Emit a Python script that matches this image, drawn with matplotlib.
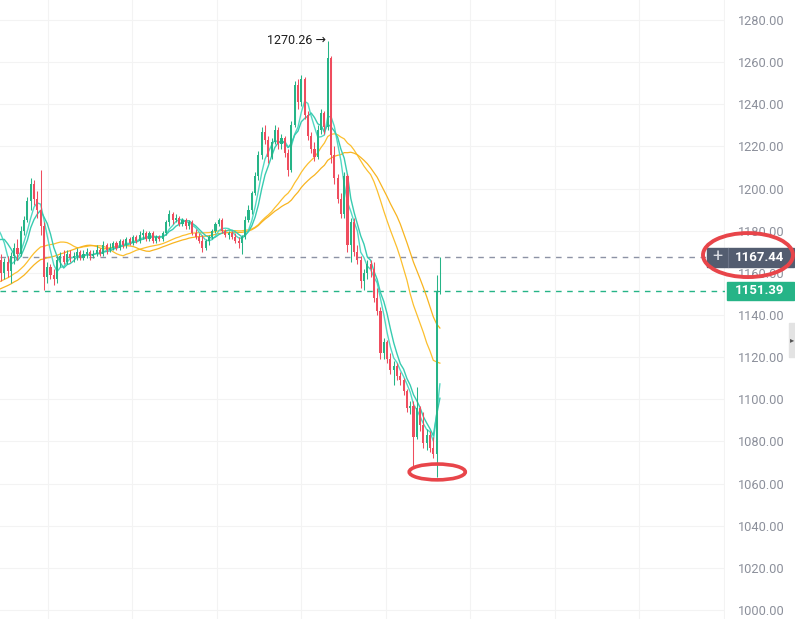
import matplotlib.pyplot as plt
from matplotlib.patches import Ellipse, Rectangle
from matplotlib import transforms
import numpy as np
import pandas as pd

plt.rcParams['font.family'] = ['Roboto', 'DejaVu Sans']

# closes before the visible window (only used to warm up the moving averages)
earlier_closes = [1138, 1140, 1137, 1141, 1139, 1142, 1140, 1143, 1141, 1144,
                  1142, 1145, 1143, 1146, 1144, 1147, 1145, 1148, 1146, 1149,
                  1147, 1150, 1148, 1151, 1149, 1152, 1150, 1153, 1158, 1165,
                  1175, 1185, 1192, 1188, 1166]

opens = [1166, 1160, 1165, 1161, 1168, 1172, 1169, 1180, 1185, 1194,
         1202, 1195, 1190, 1182, 1158, 1163, 1159, 1157, 1166, 1168,
         1165, 1169, 1167, 1168, 1170, 1167, 1169, 1170, 1168, 1169,
         1171, 1169, 1173, 1171, 1172, 1174, 1172, 1175, 1173, 1176,
         1174, 1177, 1175, 1178, 1179, 1176, 1179, 1175, 1177, 1176,
         1179, 1184, 1188, 1185, 1186, 1183, 1185, 1182, 1184, 1179,
         1177, 1175, 1172, 1175, 1177, 1180, 1183, 1185, 1180, 1178,
         1179, 1177, 1175, 1174, 1177, 1185, 1190, 1198, 1206, 1216,
         1227, 1223, 1215, 1222, 1228, 1221, 1224, 1217, 1209, 1230,
         1249, 1241, 1252, 1235, 1225, 1219, 1215, 1228, 1236, 1229,
         1262, 1216, 1205, 1195, 1188, 1206, 1173, 1184, 1170, 1166,
         1156, 1160, 1164, 1162, 1148, 1142, 1122, 1127, 1119, 1114,
         1116, 1111, 1109, 1104, 1096, 1097, 1082, 1096, 1088, 1079,
         1083, 1077, 1074, 1151]
highs = [1169, 1167, 1168, 1170, 1174, 1176, 1182, 1187, 1196, 1205,
         1204, 1199, 1209, 1184, 1165, 1164, 1162, 1168, 1170, 1171,
         1171, 1171, 1170, 1172, 1171, 1171, 1172, 1171, 1171, 1173,
         1172, 1175, 1174, 1174, 1175, 1175, 1176, 1176, 1177, 1177,
         1178, 1178, 1180, 1181, 1180, 1180, 1180, 1178, 1178, 1180,
         1185, 1190, 1189, 1188, 1187, 1186, 1186, 1185, 1185, 1181,
         1179, 1178, 1176, 1178, 1181, 1184, 1186, 1186, 1181, 1180,
         1180, 1179, 1177, 1178, 1187, 1192, 1199, 1208, 1218, 1229,
         1230, 1225, 1224, 1230, 1229, 1226, 1225, 1219, 1232, 1251,
         1252, 1254, 1253, 1237, 1227, 1222, 1230, 1238, 1237, 1270.26,
         1263, 1220, 1207, 1198, 1208, 1207, 1186, 1186, 1173, 1168,
         1162, 1166, 1166, 1165, 1153, 1144, 1129, 1128, 1122, 1118,
         1117, 1113, 1110, 1105, 1099, 1099, 1106, 1097, 1094, 1086,
         1085, 1082, 1159, 1167.44]
lows = [1156, 1157, 1158, 1155, 1164, 1166, 1168, 1178, 1184, 1190,
        1192, 1186, 1178, 1152, 1155, 1157, 1154, 1155, 1163, 1164,
        1164, 1165, 1165, 1166, 1166, 1166, 1167, 1166, 1167, 1168,
        1168, 1168, 1169, 1170, 1171, 1171, 1171, 1172, 1172, 1173,
        1173, 1174, 1174, 1176, 1175, 1175, 1174, 1174, 1175, 1175,
        1178, 1182, 1183, 1184, 1182, 1182, 1181, 1181, 1178, 1176,
        1174, 1170, 1171, 1173, 1176, 1179, 1182, 1179, 1177, 1176,
        1176, 1174, 1172, 1169, 1176, 1184, 1188, 1197, 1204, 1214,
        1221, 1212, 1214, 1221, 1219, 1219, 1215, 1206, 1208, 1229,
        1238, 1239, 1233, 1223, 1217, 1213, 1214, 1226, 1226, 1228,
        1212, 1202, 1193, 1186, 1186, 1170, 1165, 1168, 1164, 1153,
        1152, 1157, 1158, 1146, 1140, 1119, 1119, 1117, 1112, 1107,
        1109, 1107, 1102, 1094, 1093, 1068, 1081, 1085, 1077, 1076,
        1075, 1072, 1063, 1150]
closes = [1160, 1165, 1161, 1168, 1172, 1169, 1180, 1185, 1194, 1202,
          1195, 1190, 1182, 1158, 1163, 1159, 1157, 1166, 1168, 1165,
          1169, 1167, 1168, 1170, 1167, 1169, 1170, 1168, 1169, 1171,
          1169, 1173, 1171, 1172, 1174, 1172, 1175, 1173, 1176, 1174,
          1177, 1175, 1178, 1179, 1176, 1179, 1175, 1177, 1176, 1179,
          1184, 1188, 1185, 1186, 1183, 1185, 1182, 1184, 1179, 1177,
          1175, 1172, 1175, 1177, 1180, 1183, 1185, 1180, 1178, 1179,
          1177, 1175, 1174, 1177, 1185, 1190, 1198, 1206, 1216, 1227,
          1223, 1215, 1222, 1228, 1221, 1224, 1217, 1209, 1230, 1249,
          1241, 1252, 1235, 1225, 1219, 1215, 1228, 1236, 1229, 1262,
          1216, 1205, 1195, 1188, 1206, 1173, 1184, 1170, 1166, 1156,
          1160, 1164, 1162, 1148, 1142, 1122, 1127, 1119, 1114, 1116,
          1111, 1109, 1104, 1096, 1097, 1082, 1096, 1088, 1079, 1083,
          1077, 1074, 1151, 1151.39]

ma_fast = [5, 7]
ma_slow = [25, 33]
peak_label = "1270.26"
last_price = 1151.39
cross_price = 1167.44
price_ticks = list(range(1000, 1281, 20))

green = "#26b487"
red = "#ef4d5e"

fig = plt.figure(figsize=(7.95, 6.19), dpi=100)
ax = fig.add_axes([0, 0, 725 / 795, 1])

n = len(closes)
idx = np.arange(n)
o = np.array(opens)
c = np.array(closes)
h = np.array(highs)
l = np.array(lows)
up = c >= o
cols = np.where(up, green, red)

# moving averages
all_closes = pd.Series(earlier_closes + closes)
all_idx = np.arange(-len(earlier_closes), n)
for p, col in zip(ma_slow, ["#fcbf2e", "#f8b420"]):
    ax.plot(all_idx, all_closes.rolling(p).mean(), color=col, lw=0.9, zorder=2)
for p, col in zip(ma_fast, ["#52d8c3", "#38cbb0"]):
    ax.plot(all_idx, all_closes.rolling(p).mean(), color=col, lw=1.0, zorder=2)

# candles
ax.vlines(idx, l, h, colors=cols, lw=0.75, zorder=3)
body = np.maximum(np.abs(c - o), 0.4)
ax.bar(idx, body, bottom=np.minimum(o, c), width=0.62, color=cols, zorder=3)

# price lines
ax.axhline(cross_price, color="#8d93a5", lw=1.0, ls=(0, (4, 4)), zorder=1)
ax.axhline(last_price, color=green, lw=1.0, ls=(0, (4, 4)), zorder=1)

# grid
for t in price_ticks:
    ax.axhline(t, color="#f3f3f3", lw=0.8, zorder=0)
for gx in np.arange(14.2, 225, 25.6):
    ax.axvline(gx, color="#f3f3f3", lw=0.8, zorder=0)

ax.set_xlim(-1 / 3.3, 724 / 3.3)
ax.set_ylim(995.7, 1289.5)
ax.set_xticks([])
ax.yaxis.tick_right()
ax.set_yticks(price_ticks)
ax.set_yticklabels([f"{t:.2f}" for t in price_ticks])
ax.tick_params(axis="y", length=0, pad=9.5, labelsize=9.2, labelcolor="#8c909b")
for s in ax.spines.values():
    s.set_visible(False)

# peak annotation
pk = int(np.argmax(h))
ax.text(pk - 0.6, h[pk], peak_label + " \u2192", ha="right", va="center",
        fontsize=9, color="#1f1f1f", zorder=5)

# tags on the price scale
tr = transforms.blended_transform_factory(fig.transFigure, ax.transData)
pxw = 1 / 795
pxh = 1 / 2.107
ax.add_patch(Rectangle((707 * pxw, cross_price - 9.5 * pxh), 87 * pxw, 19 * pxh,
                       transform=tr, color="#535d70", clip_on=False, zorder=6))
ax.plot([728 * pxw, 728 * pxw], [cross_price - 9.5 * pxh, cross_price + 9.5 * pxh],
        transform=tr, color="#6b7488", lw=0.8, clip_on=False, zorder=7)
ax.text(717.5 * pxw, cross_price, "+", transform=tr, ha="center", va="center",
        color="#d8dbe2", fontsize=13, clip_on=False, zorder=7)
ax.text(760 * pxw, cross_price, f"{cross_price:.2f}", transform=tr, ha="center",
        va="center", color="white", fontsize=9.5, fontweight="bold", clip_on=False, zorder=7)
ax.add_patch(Rectangle((727 * pxw, last_price - 9 * pxh), 67 * pxw, 18 * pxh,
                       transform=tr, color=green, clip_on=False, zorder=6))
ax.text(760 * pxw, last_price, f"{last_price:.2f}", transform=tr, ha="center",
        va="center", color="white", fontsize=9.5, fontweight="bold", clip_on=False, zorder=7)

# highlight ellipses
ax.add_patch(Ellipse((748 * pxw, cross_price + 1), 90 * pxw, 44 * pxh, transform=tr,
                     fill=False, ec="#e8454a", lw=2.8, clip_on=False, zorder=8))
ax.add_patch(Ellipse((n - 2 + 0.2, 1065.5), 17, 7.5, fill=False, ec="#e8454a",
                     lw=2.6, clip_on=False, zorder=8))

# small side tab
ax.add_patch(Rectangle((789 * pxw, 1120), 6 * pxw, 16, transform=tr, color="#e3e3e3",
                       clip_on=False, zorder=6))
ax.text(792 * pxw, 1128, "\u25b8", transform=tr, ha="center", va="center",
        fontsize=6, color="#555", clip_on=False, zorder=7)

fig.savefig("out.png", dpi=100)
